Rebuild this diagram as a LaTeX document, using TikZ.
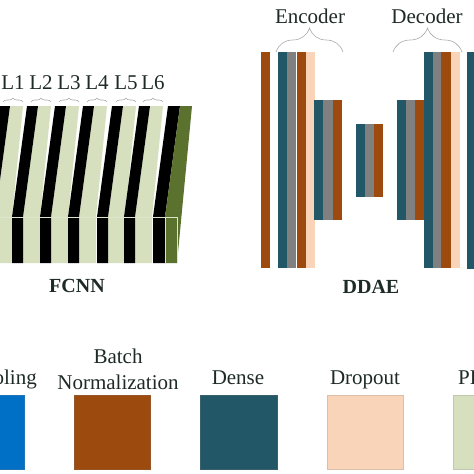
\documentclass[tikz,border=0pt]{standalone}
\usepackage{fontspec}
\setmainfont{Liberation Serif}
\usepackage{tikz}
\usetikzlibrary{decorations.pathreplacing}
\definecolor{ink}{HTML}{1E2A26}
\definecolor{leaf}{HTML}{D6E0BF}
\definecolor{olive}{HTML}{5B722F}
\definecolor{dteal}{HTML}{215767}
\definecolor{dbrown}{HTML}{9C4A0E}
\definecolor{dgray}{HTML}{808080}
\definecolor{dpeach}{HTML}{FAD4B8}
\definecolor{dblue}{HTML}{0070C6}
\definecolor{bracegray}{HTML}{A8A8A8}

\begin{document}
\begin{tikzpicture}[x=1pt,y=-1pt]
\tikzset{
  lab/.style={text=ink,font=\fontsize{21}{23}\selectfont,inner sep=0pt,anchor=base},
  title/.style={text=ink,font=\fontsize{20}{22}\selectfont\bfseries,inner sep=0pt,anchor=base},
  curly/.style={draw=bracegray,line width=0.6pt,decorate,decoration={brace,amplitude=#1}},
  swatch/.style={fill=#1,draw=#1!75!gray,line width=0.8pt}
}
\useasboundingbox (0,0) rectangle (474,474);
\clip (0,0) rectangle (474,474);
% FCNN slabs
\foreach \xb/\lab in {-16/L1,12/L2,40/L3,68/L4,97/L5,124/L6}{
  \fill[leaf] (\xb+11,263)--(\xb+11,217)--(\xb+26,106)--(\xb+39,106)--(\xb+28,217)--(\xb+28,263)--cycle;
  \fill[black] (\xb,263)--(\xb,217)--(\xb+15,106)--(\xb+26,106)--(\xb+11,217)--(\xb+11,263)--cycle;
  \draw[curly=4] (\xb+19,102)--(\xb+39,102);
  \node[lab] (\lab) at (\xb+29,89) {\lab};
}
\fill[black] (153,263)--(153,217)--(168,106)--(180,106)--(165,217)--(165,263)--cycle;
\fill[olive] (165,263)--(165,217)--(180,106)--(192,106)--(177,263)--cycle;
\draw[leaf!85!white,line width=0.5pt] (0,217)--(177,217);
\draw[leaf!85!white,line width=0.5pt] (165,217)--(165,263) (177,217)--(177,263);
\node[title] (fcnn) at (77,292) {FCNN};
% DDAE bars
\fill[dbrown] (261,52) rectangle (269.5,268);
\foreach \x/\c in {278.3/dteal,287.3/dgray,296.7/dbrown,305.7/dpeach}
  \fill[\c] (\x,52) rectangle +(9,216);
\foreach \x/\c in {314.3/dteal,323.3/dgray,332.7/dbrown}
  \fill[\c] (\x,100) rectangle +(9.4,120);
\foreach \x/\c in {356/dteal,365/dgray,374.3/dbrown}
  \fill[\c] (\x,124) rectangle +(9,73);
\foreach \x/\c in {396.7/dteal,405.7/dgray,415/dbrown}
  \fill[\c] (\x,100) rectangle +(9,120);
\foreach \x/\c in {423.7/dteal,432.7/dgray,441.3/dbrown,450.7/dpeach}
  \fill[\c] (\x,52) rectangle +(9.3,216);
\fill[dteal] (466.7,52) rectangle (480,269);
\draw[curly=24] (276,52)--(343,52);
\draw[curly=24] (393,52)--(462,52);
\node[lab] (enc) at (310,23) {Encoder};
\node[lab] (dec) at (427,23) {Decoder};
\node[title] (ddae) at (371,293) {DDAE};
% legend
\fill[swatch=dblue] (-10,395) rectangle (24,469);
\fill[swatch=dbrown] (74,395) rectangle (150,469);
\fill[swatch=dteal] (200,395) rectangle (277,469);
\fill[swatch=dpeach] (327,395) rectangle (403,469);
\fill[swatch=leaf] (453,395) rectangle (500,469);
\node[lab,anchor=base east] (pool) at (37,384) {Pooling};
\node[lab] (batch) at (118,363) {Batch};
\node[lab] (norm) at (118,389) {Normalization};
\node[lab] (dense) at (238,384) {Dense};
\node[lab] (drop) at (365,384) {Dropout};
\node[lab,anchor=base west] (prelu) at (458,384) {PReLU};
\end{tikzpicture}
\end{document}
